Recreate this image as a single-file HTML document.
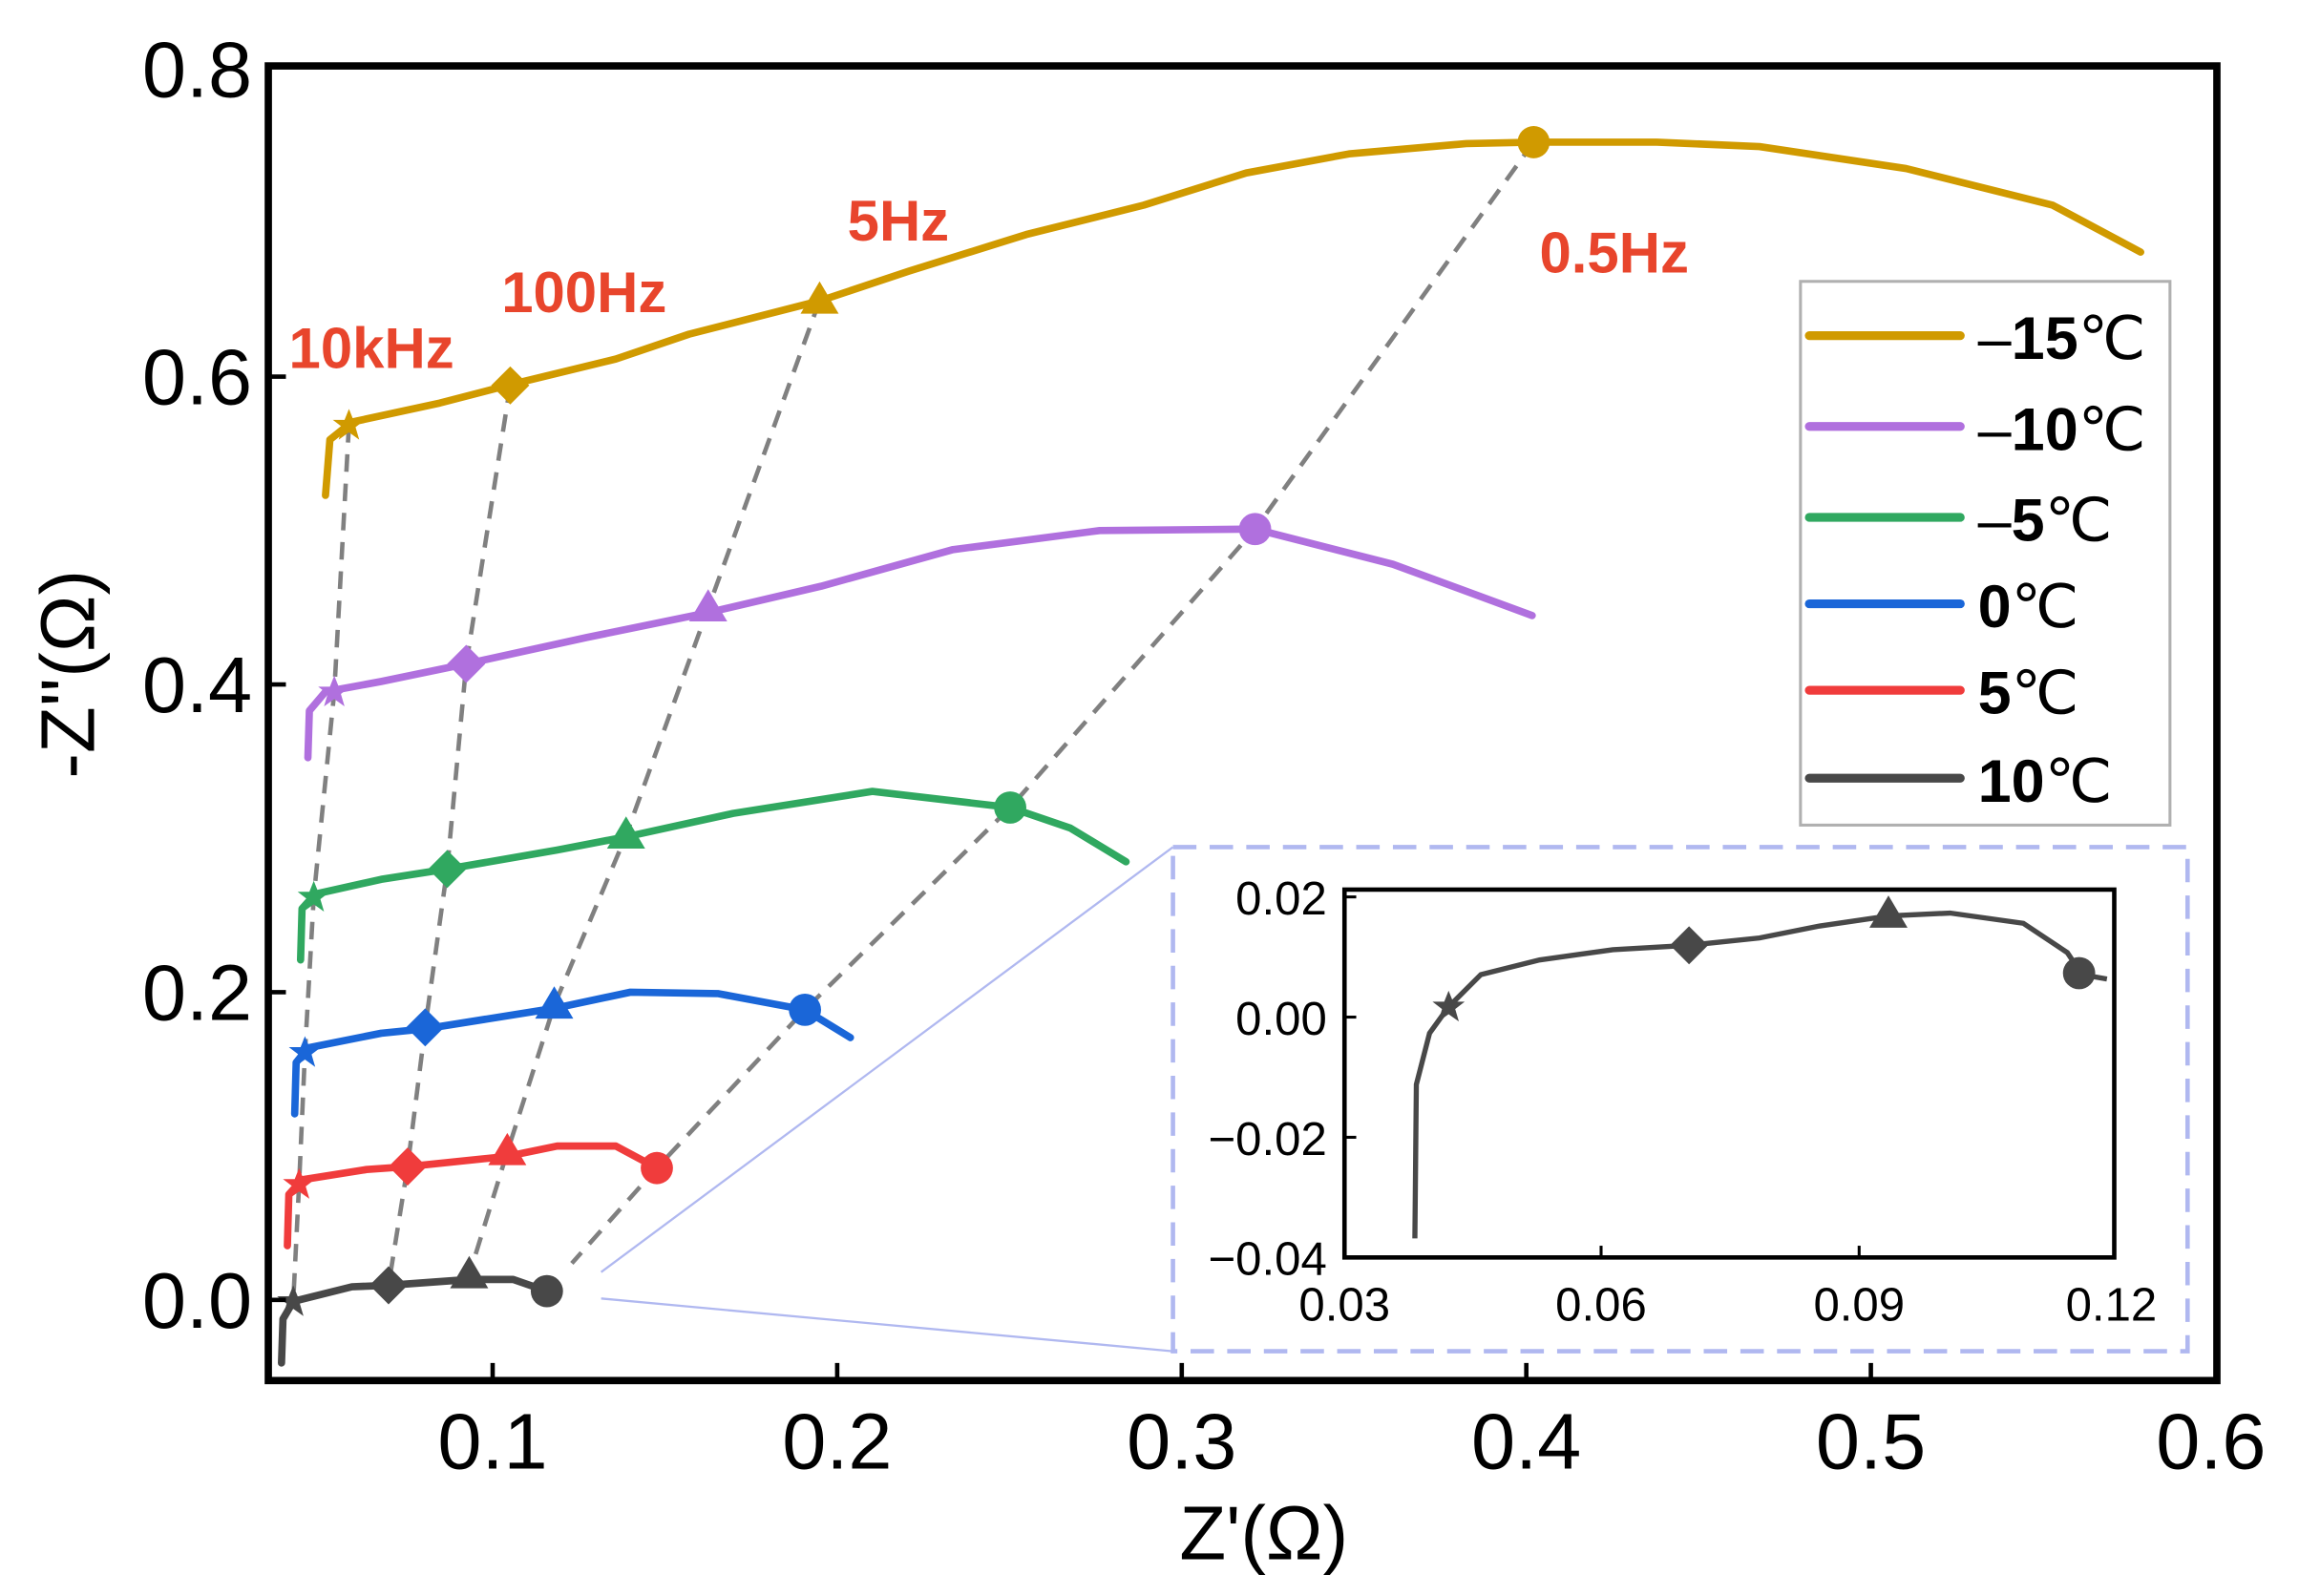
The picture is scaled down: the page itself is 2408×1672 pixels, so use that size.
<!DOCTYPE html>
<html><head><meta charset="utf-8"><style>
html,body{margin:0;padding:0;background:#fff}
svg{display:block}
text{font-family:"Liberation Sans","DejaVu Sans",sans-serif}
</style></head><body>
<svg width="2408" height="1672" viewBox="0 0 1568 1089" preserveAspectRatio="none" xmlns="http://www.w3.org/2000/svg">
<defs>
<path id="star" d="M0,-11 L3,-3.5 L11,-3.5 L4.5,1.5 L7,10 L0,5 L-7,10 L-4.5,1.5 L-11,-3.5 L-3,-3.5 Z"/>
<path id="dia" d="M0,-13 L13,0 L0,13 L-13,0 Z"/>
<path id="tri" d="M0,-13 L13,9 L-13,9 Z"/>
</defs>
<rect width="1568" height="1089" fill="#fff"/>
<g stroke="#808080" stroke-width="3" stroke-dasharray="12,8" fill="none">
<polyline points="238,290 228,472 214,612 208,718 204,808 200,888"/>
<polyline points="348,263 318,453 305,593 290,701 278,796 265,877"/>
<polyline points="559,205 483,415 427,570 378,686 346,786 320,870"/>
<polyline points="1046,97 856,361 689,551 549,689 448,797 390,862"/>
</g>
<g stroke="#b0b8f0" stroke-width="1.5">
<line x1="410" y1="868" x2="800" y2="578"/>
<line x1="410" y1="886" x2="800" y2="922"/>
</g>
<g fill="none" stroke-width="5" stroke-linejoin="round" stroke-linecap="round">
<polyline stroke="#d09a00" points="222,338 225,300 240,288 300,275 350,262 420,245 470,228 560,205 620,185 700,160 780,140 850,118 920,105 1000,98 1046,97 1130,97 1200,100 1300,115 1400,140 1460,172"/>
<polyline stroke="#b070de" points="210,517 211,485 222,472 260,465 318,453 400,435 483,418 560,400 650,375 750,362 856,361 950,385 1045,420"/>
<polyline stroke="#30a860" points="205,655 206,620 215,610 260,600 305,593 380,580 427,571 500,555 595,540 689,551 730,565 768,588"/>
<polyline stroke="#1a66d8" points="201,760 202,725 210,715 260,705 290,702 378,688 430,677 490,678 549,689 580,708"/>
<polyline stroke="#f03c3c" points="196,850 197,815 206,805 250,798 278,796 346,789 380,782 420,782 448,797"/>
<polyline stroke="#484848" points="192,930 193,900 200,888 240,878 265,877 320,873 350,873 373,881"/>
</g>
<g fill="#d09a00"><use href="#star" x="238" y="290"/><use href="#dia" x="348" y="263"/><use href="#tri" x="559" y="205"/><circle cx="1046" cy="97" r="11"/></g>
<g fill="#b070de"><use href="#star" x="228" y="472"/><use href="#dia" x="318" y="453"/><use href="#tri" x="483" y="415"/><circle cx="856" cy="361" r="11"/></g>
<g fill="#30a860"><use href="#star" x="214" y="612"/><use href="#dia" x="305" y="593"/><use href="#tri" x="427" y="570"/><circle cx="689" cy="551" r="11"/></g>
<g fill="#1a66d8"><use href="#star" x="208" y="718"/><use href="#dia" x="290" y="701"/><use href="#tri" x="378" y="686"/><circle cx="549" cy="689" r="11"/></g>
<g fill="#f03c3c"><use href="#star" x="204" y="808"/><use href="#dia" x="278" y="796"/><use href="#tri" x="346" y="786"/><circle cx="448" cy="797" r="11"/></g>
<g fill="#484848"><use href="#star" x="200" y="888"/><use href="#dia" x="265" y="877"/><use href="#tri" x="320" y="870"/><circle cx="373" cy="881" r="11"/></g>
<g fill="#e8452c" font-weight="bold" font-size="39">
<text x="197" y="251">10kHz</text>
<text x="342" y="213">100Hz</text>
<text x="578" y="164">5Hz</text>
<text x="1050" y="186">0.5Hz</text>
</g>
<rect x="183" y="45" width="1329" height="897" fill="none" stroke="#000" stroke-width="5"/>
<g stroke="#000" stroke-width="3">
<line x1="336" y1="942" x2="336" y2="930"/><line x1="571" y1="942" x2="571" y2="930"/><line x1="806" y1="942" x2="806" y2="930"/><line x1="1041" y1="942" x2="1041" y2="930"/><line x1="1276" y1="942" x2="1276" y2="930"/>
<line x1="183" y1="677" x2="195" y2="677"/><line x1="183" y1="467" x2="195" y2="467"/><line x1="183" y1="257" x2="195" y2="257"/><line x1="183" y1="887" x2="195" y2="887"/>
</g>
<g font-size="54" fill="#000" text-anchor="middle">
<text x="336" y="1002">0.1</text><text x="571" y="1002">0.2</text><text x="806" y="1002">0.3</text><text x="1041" y="1002">0.4</text><text x="1276" y="1002">0.5</text><text x="1508" y="1002">0.6</text>
</g>
<g font-size="54" fill="#000" text-anchor="end">
<text x="172" y="906">0.0</text><text x="172" y="696">0.2</text><text x="172" y="486">0.4</text><text x="172" y="276">0.6</text><text x="172" y="66">0.8</text>
</g>
<text x="862" y="1064" font-size="52" text-anchor="middle">Z'(Ω)</text>
<text transform="translate(64,460) rotate(-90)" font-size="52" text-anchor="middle">-Z''(Ω)</text>
<rect x="1228" y="192" width="252" height="371" fill="#fff" stroke="#b0b0b0" stroke-width="2"/>
<g stroke-width="6" stroke-linecap="round">
<line x1="1234" y1="229" x2="1337" y2="229" stroke="#d09a00"/>
<line x1="1234" y1="291" x2="1337" y2="291" stroke="#b070de"/>
<line x1="1234" y1="353" x2="1337" y2="353" stroke="#30a860"/>
<line x1="1234" y1="412" x2="1337" y2="412" stroke="#1a66d8"/>
<line x1="1234" y1="471" x2="1337" y2="471" stroke="#f03c3c"/>
<line x1="1234" y1="531" x2="1337" y2="531" stroke="#484848"/>
</g>
<g font-size="41" fill="#000">
<text x="1349" y="245">–<tspan font-weight="bold">15</tspan>℃</text>
<text x="1349" y="307">–<tspan font-weight="bold">10</tspan>℃</text>
<text x="1349" y="369">–<tspan font-weight="bold">5</tspan>℃</text>
<text x="1349" y="428"><tspan font-weight="bold">0</tspan>℃</text>
<text x="1349" y="487"><tspan font-weight="bold">5</tspan>℃</text>
<text x="1349" y="547"><tspan font-weight="bold">10</tspan>℃</text>
</g>
<rect x="800" y="578" width="692" height="344" fill="#fff" stroke="#b0b8f0" stroke-width="3" stroke-dasharray="16,9"/>
<rect x="917" y="607" width="525" height="251" fill="none" stroke="#000" stroke-width="3"/>
<g stroke="#000" stroke-width="2">
<line x1="1092" y1="858" x2="1092" y2="850"/><line x1="1268" y1="858" x2="1268" y2="850"/>
<line x1="917" y1="694" x2="925" y2="694"/><line x1="917" y1="776" x2="925" y2="776"/><line x1="917" y1="612" x2="925" y2="612"/>
</g>
<g font-size="32" fill="#000" text-anchor="middle">
<text x="917" y="901">0.03</text><text x="1092" y="901">0.06</text><text x="1268" y="901">0.09</text><text x="1440" y="901">0.12</text>
</g>
<g font-size="32" fill="#000" text-anchor="end">
<text x="905" y="624">0.02</text><text x="905" y="706">0.00</text><text x="905" y="788">−0.02</text><text x="905" y="870">−0.04</text>
</g>
<polyline fill="none" stroke="#484848" stroke-width="3.5" points="965,845 966,740 975,705 988,687 1010,665 1050,655 1100,648 1152,645 1200,640 1240,632 1288,625 1330,623 1380,630 1410,650 1420,665 1437,668"/>
<g fill="#484848"><use href="#star" x="988" y="687"/><use href="#dia" x="1152" y="645"/><use href="#tri" x="1288" y="624"/><circle cx="1418" cy="664" r="11"/></g>
</svg>
</body></html>
